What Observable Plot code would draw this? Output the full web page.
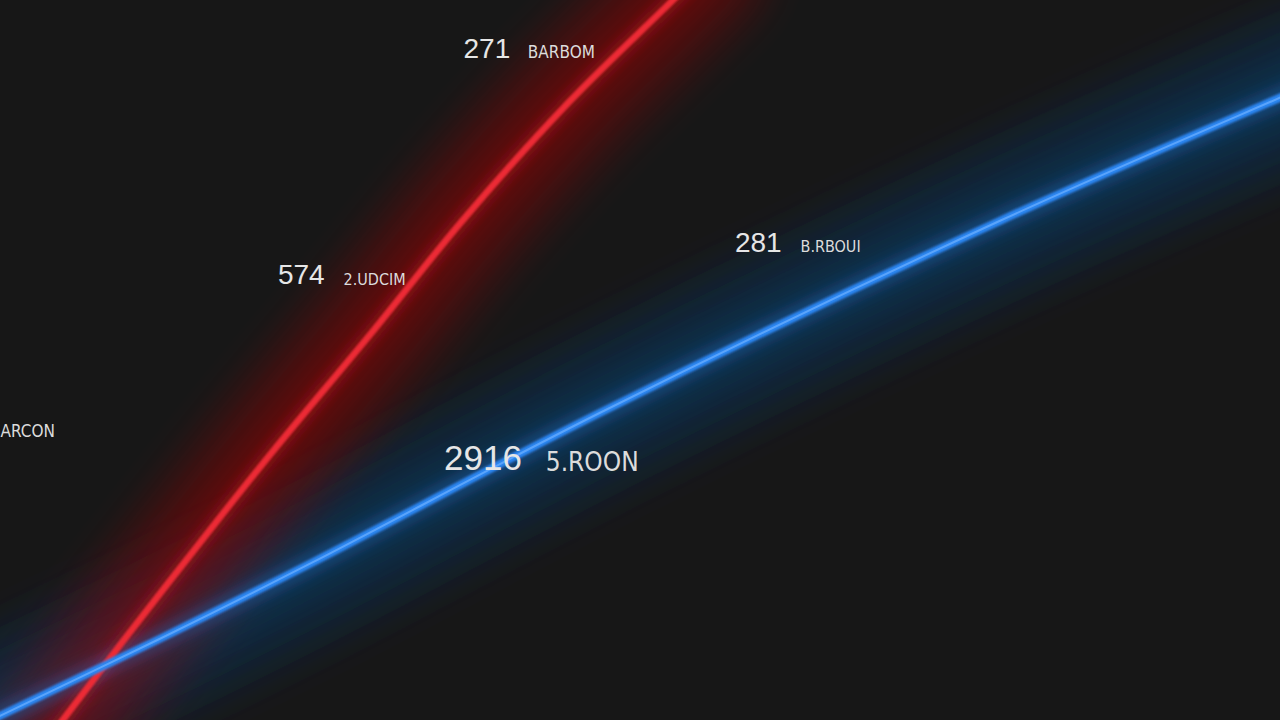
<!DOCTYPE html>
<html>
<head>
<meta charset="utf-8">
<script src="https://cdn.jsdelivr.net/npm/d3@7"></script>
<script src="https://cdn.jsdelivr.net/npm/@observablehq/plot@0.6"></script>
<style>
  html, body { margin: 0; padding: 0; background: #171717; overflow: hidden; }
  #chart { width: 1280px; height: 720px; }
</style>
</head>
<body>
<div id="chart"></div>
<script>
// Red series (x, y in chart units, 0-100)
const redX = [3.05, 4.84, 9.61, 16.95, 21.33, 29.14, 36.09, 44.53, 52.5, 54.84];
const redY = [-4.17, 0, 11.11, 27.78, 37.5, 54.17, 69.44, 86.11, 100, 104.17];
// Blue series
const blueX = [-2.34, 0, 12.5, 24.22, 46.88, 78.13, 100, 102.34];
const blueY = [-1.39, 0.69, 11.39, 21.81, 42.78, 69.44, 86.53, 88.33];
// Labels
const labelText = ["271", "BARBOM", "574", "2.UDCIM", "281", "B.RBOUI", "ARCON", "2916", "5.ROON"];
const labelX    = [38.0, 41.2, 23.5, 26.8, 59.2, 62.5, 0.0, 37.7, 42.6];
const labelY    = [93.3, 92.8, 61.9, 61.25, 66.25, 65.8, 40.1, 36.4, 35.8];
const labelSize = [28, 17, 28, 16, 28, 16, 17, 35, 26];
const labelKind = ["num", "word", "num", "word", "num", "word", "word", "num", "word"];

const red = redX.map((x, i) => ({x, y: redY[i]}));
const blue = blueX.map((x, i) => ({x, y: blueY[i]}));
const labels = labelText.map((t, i) => ({t, x: labelX[i], y: labelY[i], s: labelSize[i], k: labelKind[i]}));

const curve = "catmull-rom";
const glowWidths = [180, 140, 100, 70, 44];
const glowMarks = [];
for (const w of glowWidths) {
  glowMarks.push(Plot.line(blue, {x: "x", y: "y", stroke: "#174a85", strokeWidth: w, strokeOpacity: 0.12, curve}));
}
for (const w of glowWidths) {
  glowMarks.push(Plot.line(red, {x: "x", y: "y", stroke: "#9a1419", strokeWidth: w * 0.85, strokeOpacity: 0.14, curve}));
}

const plot = Plot.plot({
  width: 1280, height: 720,
  margin: 0,
  style: {background: "#171717", overflow: "hidden"},
  x: {domain: [0, 100], axis: null},
  y: {domain: [0, 100], axis: null},
  marks: [
    ...glowMarks,
    Plot.line(red, {x: "x", y: "y", stroke: "#c01c24", strokeWidth: 16, strokeOpacity: 0.45, curve}),
    Plot.line(blue, {x: "x", y: "y", stroke: "#2a6cc4", strokeWidth: 20, strokeOpacity: 0.4, curve}),
    Plot.line(red, {x: "x", y: "y", stroke: "#ec2a35", strokeWidth: 6.5, curve}),
    Plot.line(blue, {x: "x", y: "y", stroke: "#2b85f0", strokeWidth: 8, curve}),
    Plot.line(blue, {x: "x", y: "y", stroke: "#6fb0ff", strokeWidth: 2, strokeOpacity: 0.7, curve}),
    Plot.text(labels.filter(d => d.k === "num"), {x: "x", y: "y", text: "t", fontSize: "s", fill: "#e6e6e6", textAnchor: "middle", fontFamily: "Liberation Sans, Arial, sans-serif"}),
    Plot.text(labels.filter(d => d.k === "word"), {x: "x", y: "y", text: "t", fontSize: "s", fill: "#dcdcdc", textAnchor: "start", fontFamily: "DejaVu Sans Condensed, Roboto, sans-serif"})
  ]
});
document.getElementById("chart").appendChild(plot);

// Glow filters
const svg = d3.select(plot);
const defs = svg.insert("defs", ":first-child");
const mk = (id, sd) => defs.append("filter").attr("id", id).attr("filterUnits", "userSpaceOnUse")
  .attr("x", -200).attr("y", -200).attr("width", 1680).attr("height", 1120)
  .append("feGaussianBlur").attr("stdDeviation", sd);
mk("blurWide", 16);
mk("blurMid", 7);
mk("blurSoft", 0.8);
const lineGroups = svg.selectAll(":scope > g").nodes().filter(g => g.getAttribute("aria-label") === "line");
const nGlow = glowWidths.length * 2;
lineGroups.forEach((g, i) => {
  let f = null;
  if (i < nGlow) f = "blurWide";
  else if (i < nGlow + 2) f = "blurMid";
  else if (i < nGlow + 4) f = "blurSoft";
  if (f) g.setAttribute("filter", `url(#${f})`);
});
svg.selectAll("g[aria-label=text] text").style("font-stretch", "condensed");
</script>
</body>
</html>
